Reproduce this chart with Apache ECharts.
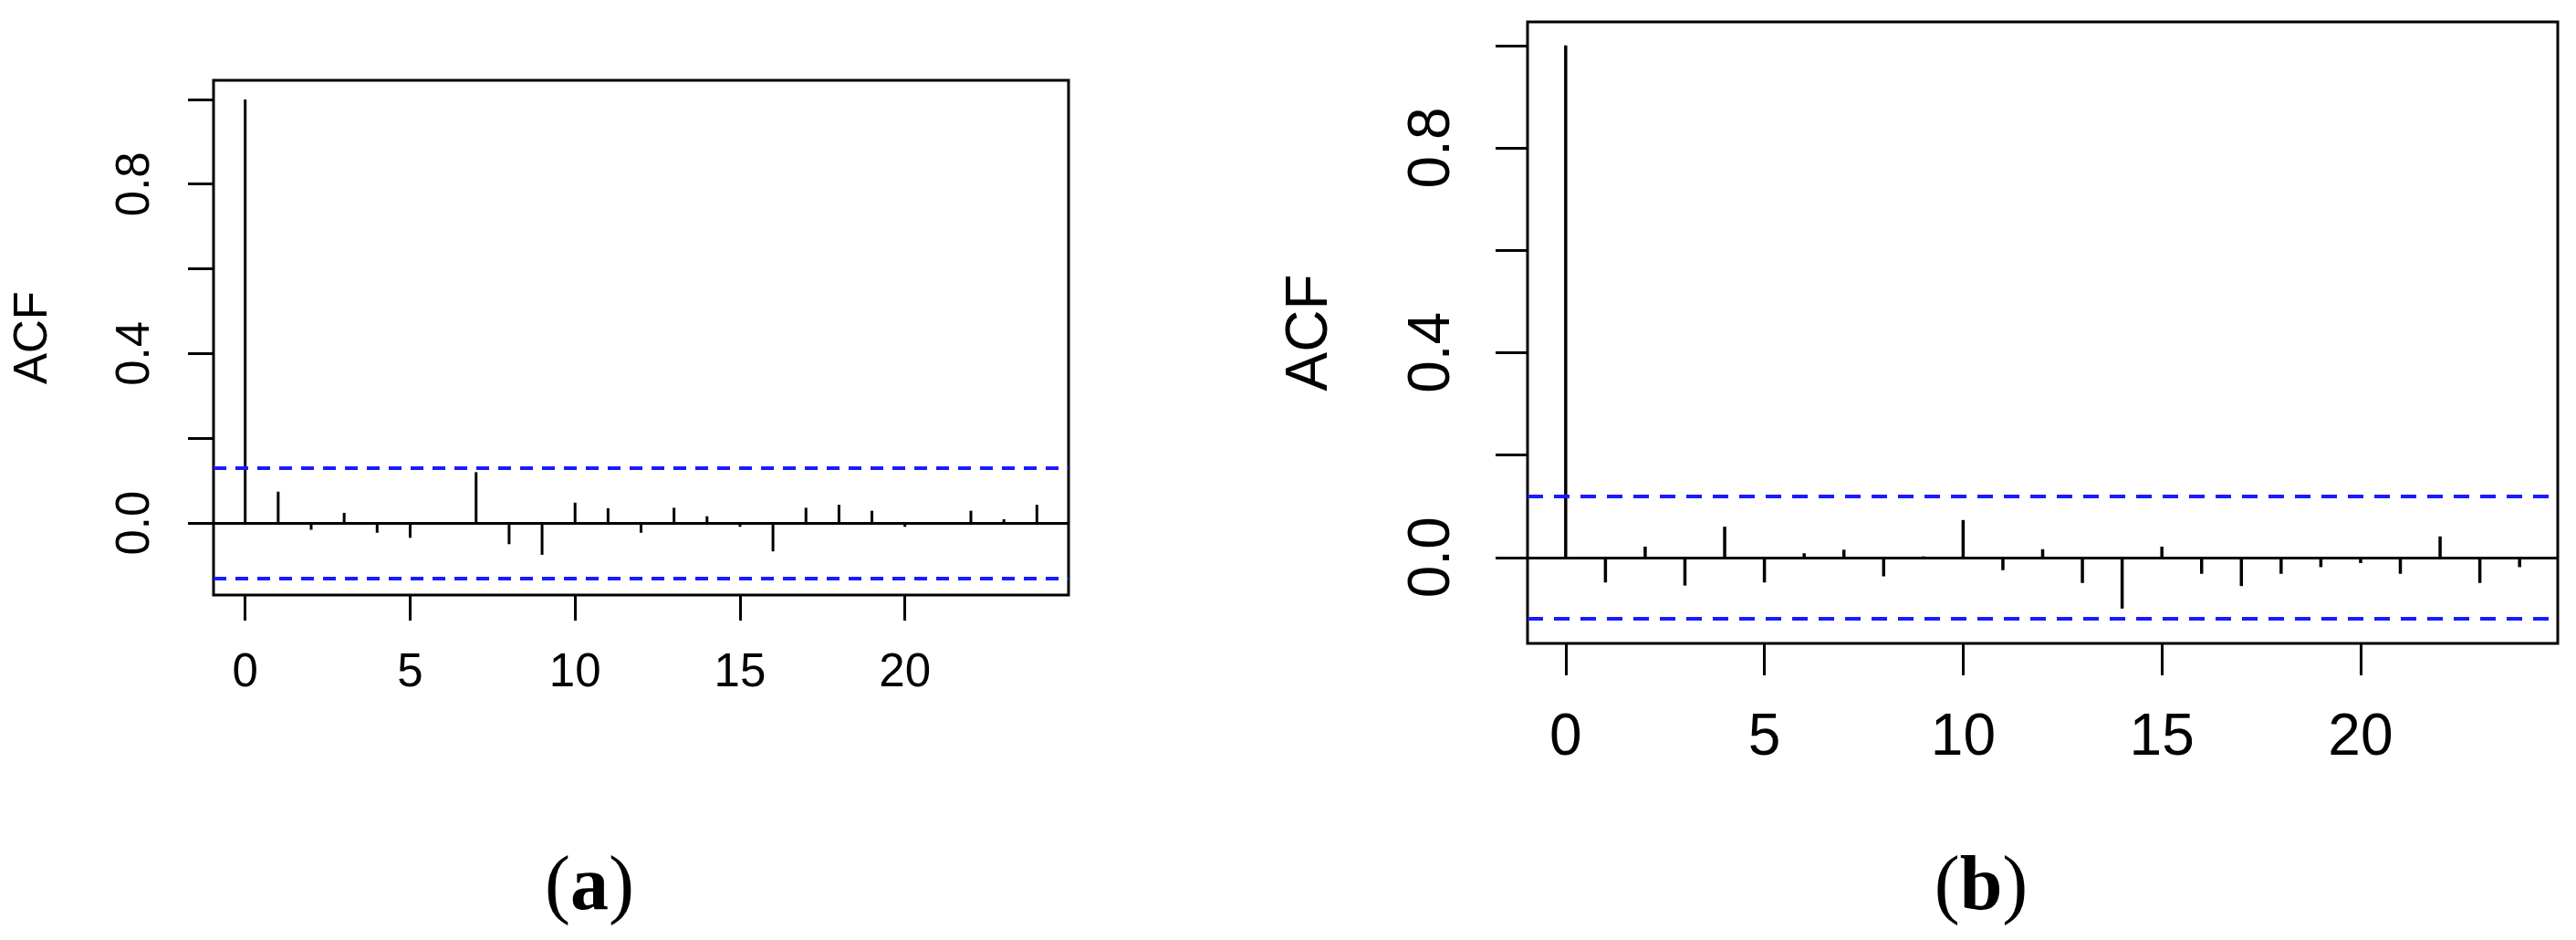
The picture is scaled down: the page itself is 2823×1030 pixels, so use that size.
<!DOCTYPE html>
<html>
<head>
<meta charset="utf-8">
<script src="https://cdn.jsdelivr.net/npm/echarts@6/dist/echarts.min.js"></script>
<style>
html,body{margin:0;padding:0;background:#fff;}
#chart{width:2823px;height:1030px;}
</style>
</head>
<body>
<div id="chart"></div>
<script>
// ---- data ----
var lags = [0,1,2,3,4,5,6,7,8,9,10,11,12,13,14,15,16,17,18,19,20,21,22,23,24];
var acfA = [1.0, 0.074, -0.016, 0.024, -0.023, -0.035, 0.002, 0.120, -0.050, -0.075,
            0.048, 0.035, -0.023, 0.036, 0.016, -0.009, -0.067, 0.036, 0.043, 0.029,
            -0.009, -0.002, 0.029, 0.009, 0.043];
var acfB = [1.0, -0.049, 0.021, -0.055, 0.060, -0.049, 0.008, 0.015, -0.037, 0.002,
            0.073, -0.025, 0.016, -0.050, -0.100, 0.021, -0.032, -0.056, -0.032, -0.019,
            -0.011, -0.032, 0.041, -0.050, -0.019];
var ciA = 0.125;
var ciB = 0.123;
var xTicks = [0, 5, 10, 15, 20];
var yTicks = [0, 0.2, 0.4, 0.6, 0.8, 1.0];
var yLabels = [0, 0.4, 0.8];
var panelLabels = ['a', 'b'];

var chart = echarts.init(document.getElementById('chart'), null, {renderer: 'canvas'});

function pairs(vals){ return lags.map(function(l,i){ return [l, vals[i]]; }); }

var panels = [
  {left: 234, top: 88, width: 937, height: 564, ymin: -0.17, ymax: 1.045, fs: 51, tick: 28, margin: 60, nameGap: 172, dash: [14, 10], stick: 3, data: acfA, ci: ciA, labelX: 646},
  {left: 1674, top: 24, width: 1129, height: 681, ymin: -0.168, ymax: 1.046, fs: 64, tick: 35, margin: 72, nameGap: 206, dash: [17, 12], stick: 3.5, data: acfB, ci: ciB, labelX: 2171}
];

var grids = [], xAxes = [], yAxes = [], series = [], graphics = [];
panels.forEach(function(p, k){
  grids.push({left: p.left, top: p.top, width: p.width, height: p.height, show: true,
              borderColor: '#000', borderWidth: 3, backgroundColor: 'transparent', containLabel: false});
  xAxes.push({type: 'value', gridIndex: k, min: -0.96, max: 24.96,
    axisLine: {show: false, onZero: false},
    splitLine: {show: false},
    axisTick: {show: true, length: p.tick, customValues: xTicks, lineStyle: {color: '#000', width: 3}},
    axisLabel: {show: true, customValues: xTicks, margin: p.margin, color: '#000',
                fontFamily: 'Liberation Sans', fontSize: p.fs}
  });
  yAxes.push({type: 'value', gridIndex: k, min: p.ymin, max: p.ymax,
    name: 'ACF', nameLocation: 'middle', nameRotate: 90, nameGap: p.nameGap,
    nameTextStyle: {color: '#000', fontFamily: 'Liberation Sans', fontSize: p.fs},
    axisLine: {show: false, onZero: false},
    splitLine: {show: false},
    axisTick: {show: true, length: p.tick, customValues: yTicks, lineStyle: {color: '#000', width: 3}},
    axisLabel: {show: true, customValues: yLabels, rotate: 90, margin: p.margin, color: '#000',
                fontFamily: 'Liberation Sans', fontSize: p.fs,
                formatter: function(v){ return (Math.round(v*10)/10).toFixed(1); }}
  });
  series.push({
    type: 'bar', xAxisIndex: k, yAxisIndex: k, data: pairs(p.data),
    barWidth: p.stick, itemStyle: {color: '#000'}, animation: false, silent: true,
    markLine: {
      symbol: 'none', silent: true, animation: false, label: {show: false},
      data: [
        {yAxis: 0, lineStyle: {color: '#000', width: 3, type: 'solid'}},
        {yAxis: p.ci, lineStyle: {color: '#1a1aff', width: 4, type: p.dash}},
        {yAxis: -p.ci, lineStyle: {color: '#1a1aff', width: 4, type: p.dash}}
      ]
    }
  });
  graphics.push({
    type: 'text', x: p.labelX, y: 974,
    style: {
      text: '({b|' + panelLabels[k] + '})',
      font: '84px "Liberation Serif"', fill: '#000', align: 'center', verticalAlign: 'middle',
      rich: {b: {fontFamily: 'Liberation Serif', fontWeight: 'bold', fontSize: 84, fill: '#000'}}
    }
  });
});

chart.setOption({
  animation: false,
  backgroundColor: '#fff',
  grid: grids,
  xAxis: xAxes,
  yAxis: yAxes,
  series: series,
  graphic: graphics
});
</script>
</body>
</html>
